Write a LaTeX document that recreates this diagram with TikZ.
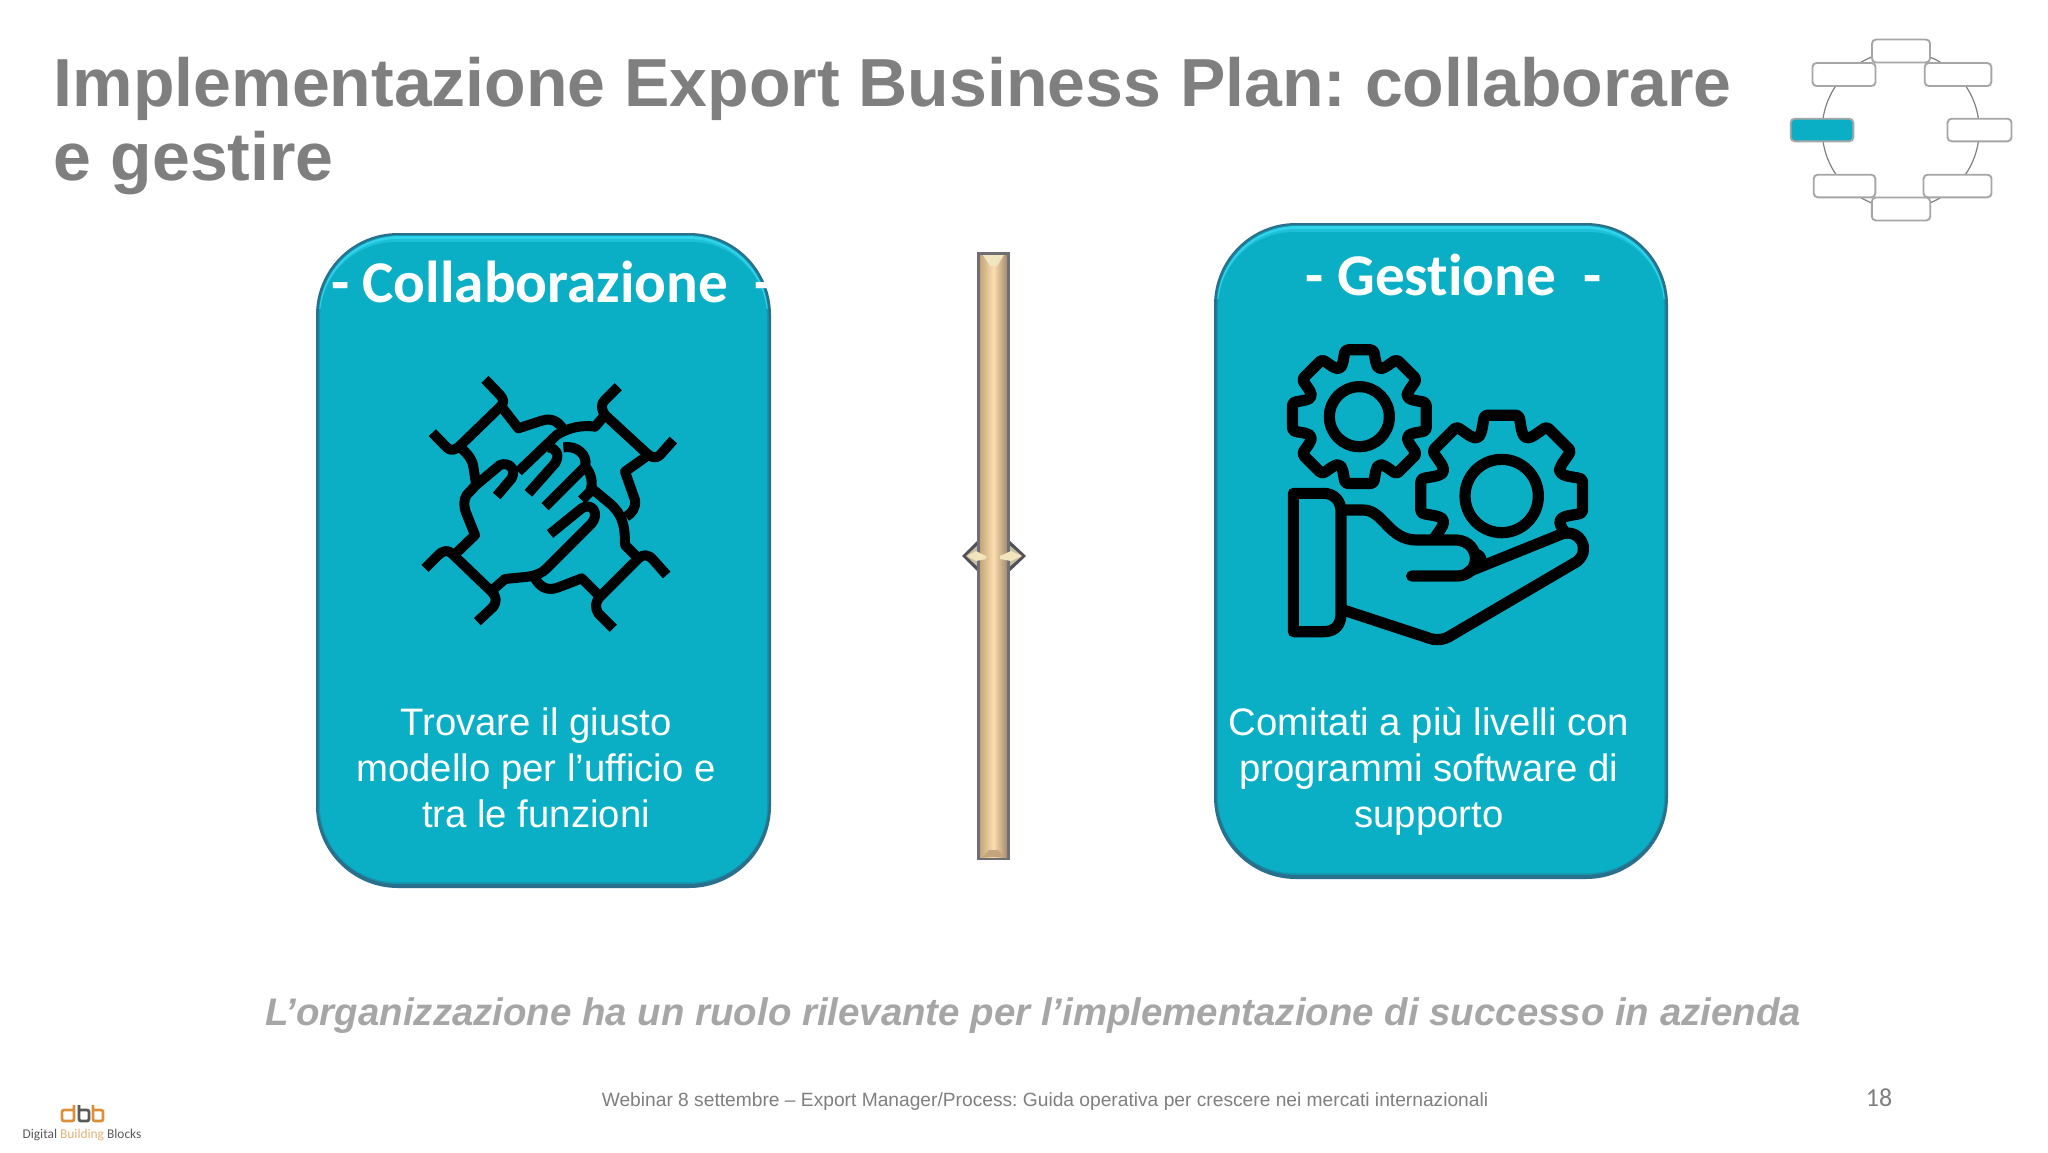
\documentclass[tikz,border=0pt]{standalone}
\usepackage{fontspec}
\setmainfont{Liberation Sans}
\newfontfamily\carlito[Ligatures=NoCommon]{Carlito}
\frenchspacing
\definecolor{titlegray}{HTML}{7F7F7F}
\definecolor{notegray}{HTML}{A6A6A6}
\definecolor{teal}{HTML}{0AAFC6}
\definecolor{tealdark}{HTML}{2A6F8C}
\definecolor{tealmid}{HTML}{1296AE}
\definecolor{teallight}{HTML}{2FD3EA}
\definecolor{tealsoft}{HTML}{1CC0D8}
\definecolor{ringgray}{HTML}{A6A6A6}
\definecolor{logoorange}{HTML}{DB8F3A}
\definecolor{logogray}{HTML}{595959}
\definecolor{postedge}{HTML}{6F6E74}
\definecolor{postleft}{HTML}{C4A67C}
\definecolor{postmid}{HTML}{FBDDAE}
\definecolor{postright}{HTML}{A48C6E}
\definecolor{postlight}{HTML}{F1E5BD}
\definecolor{postbevel}{HTML}{C9BEA4}
\definecolor{postdark}{HTML}{50505A}
\tikzset{
  txt/.style={inner sep=0pt,outer sep=0pt},
  ringbox/.style={draw=ringgray,line width=0.95pt,rounded corners=2pt,fill=white,inner sep=0pt,outer sep=0pt},
  iconline/.style={draw=black,line width=5pt,line join=round,line cap=butt},
  gearline/.style={draw=black,line width=5.6pt,line join=round,line cap=round},
  logoline/.style={line width=1.35pt,rounded corners=1pt},
}
\newcommand{\cardshape}[4]{%
  \fill[tealdark,rounded corners=41pt] (#1,#2) rectangle (#3,#4);
  \fill[tealmid,rounded corners=40pt] (#1+2.5,#2+2) rectangle (#3-2.5,#4-4);
  \begin{scope}
    \clip (#1,#2) rectangle (#3,#2+75);
    \fill[teallight,rounded corners=40pt] (#1+3,#2+3) rectangle (#3-3,#4-5);
    \fill[tealsoft,rounded corners=39pt] (#1+4,#2+6) rectangle (#3-4,#4-5);
  \end{scope}
  \fill[teal,rounded corners=38pt] (#1+4,#2+9) rectangle (#3-4,#4-6);
}
\newcommand{\gearshape}[5]{%
  \draw[#5,rounded corners=1.5pt] ([shift={(#1,#2)}]-22.5:#3*0.755)
    \foreach \a in {0,45,...,315}{
      -- ([shift={(#1,#2)}]\a-18:#3*0.8) -- ([shift={(#1,#2)}]\a-12:#3)
      -- ([shift={(#1,#2)}]\a+12:#3) -- ([shift={(#1,#2)}]\a+18:#3*0.8)
      -- ([shift={(#1,#2)}]\a+22.5:#3*0.755)
    } -- cycle;
  \draw[#5] (#1,#2) circle[radius=#4];
}
\begin{document}
\begin{tikzpicture}[x=0.5pt,y=-0.5pt]
\useasboundingbox (0,0) rectangle (2048,1152);
\fill[white] (0,0) rectangle (2048,1152);

% title
\node[txt,anchor=base west,text=titlegray,font=\bfseries\fontsize{34pt}{38pt}\selectfont] (title1) at (54,106) {Implementazione Export Business Plan: collaborare};
\node[txt,anchor=base west,text=titlegray,font=\bfseries\fontsize{34pt}{38pt}\selectfont] (title2) at (54,180) {e gestire};

% ring icon
\draw[gray,line width=0.6pt] (1900.7,130) circle[radius=78.5];
\node[ringbox,minimum width=29pt,minimum height=11.5pt] (ringtop) at (1901,51) {};
\node[ringbox,minimum width=31.5pt,minimum height=11.5pt] (ringtl) at (1844,74.5) {};
\node[ringbox,minimum width=33.3pt,minimum height=11.5pt] (ringtr) at (1958,74.5) {};
\node[ringbox,fill=teal,draw=ringgray,minimum width=31.3pt,minimum height=11.3pt] (ringl) at (1822,130) {};
\node[ringbox,minimum width=32pt,minimum height=11.3pt] (ringr) at (1979.5,130) {};
\node[ringbox,minimum width=30.8pt,minimum height=11.3pt] (ringbl) at (1844.5,186) {};
\node[ringbox,minimum width=34pt,minimum height=11.3pt] (ringbr) at (1957.5,186) {};
\node[ringbox,minimum width=29.2pt,minimum height=11.5pt] (ringb) at (1901,209) {};

% cards
\cardshape{316}{233}{771}{888}
\cardshape{1214}{223}{1668}{879}

\node[txt,anchor=base,text=white,font=\carlito\bfseries\fontsize{29.6pt}{32pt}\selectfont] (head1) at (552,302) {- Collaborazione\ \ -};
\node[txt,anchor=base,text=white,font=\carlito\bfseries\fontsize{29.6pt}{32pt}\selectfont] (head2) at (1453.5,295) {- Gestione\ \ -};

\node[txt,align=center,text=white,font=\fontsize{19.15pt}{23pt}\selectfont] (body1) at (536,768) {Trovare il giusto\\modello per l’ufficio e\\tra le funzioni};
\node[txt,align=center,text=white,font=\fontsize{19.15pt}{23pt}\selectfont] (body2) at (1429,771.5) {Comitati a più livelli con\\programmi software di\\supporto};

% hands icon
\begin{scope}[shift={(400,360)},x=0.16667pt,y=-0.16667pt]
  \draw[iconline] (255,58) -- (300,105) .. controls (312,118) and (312,128) .. (303,138) -- (175,262) .. controls (160,272) and (150,272) .. (140,262) -- (97,218);
  \draw[iconline] (303,138) -- (355,205) -- (425,182) .. controls (455,172) and (475,185) .. (490,208);
  \draw[iconline] (185,265) .. controls (205,285) and (218,300) .. (220,320) -- (228,372);
  \draw[iconline] (290,408) -- (335,355) .. controls (350,325) and (325,305) .. (300,315) -- (228,375) -- (200,405) .. controls (190,420) and (192,440) .. (197,455) -- (225,525) -- (170,578);
  \draw[iconline] (75,625) -- (115,585) .. controls (130,570) and (145,570) .. (155,580) -- (275,695) .. controls (290,710) and (290,725) .. (280,740) -- (232,785);
  \draw[iconline] (275,692) -- (315,657) -- (385,650) .. controls (410,645) and (425,640) .. (440,625) -- (575,490) .. controls (600,460) and (575,425) .. (545,445) -- (450,522);
  \draw[iconline] (355,335) -- (470,225) .. controls (510,200) and (550,195) .. (585,200) -- (615,165);
  \draw[iconline] (385,400) -- (465,310) .. controls (480,285) and (470,265) .. (445,262);
  \draw[iconline] (490,262) .. controls (530,255) and (565,285) .. (555,320) -- (435,440);
  \draw[iconline] (555,320) .. controls (575,340) and (580,370) .. (570,395) -- (545,420);
  \draw[iconline] (655,80) -- (615,120) .. controls (600,135) and (605,150) .. (615,165) -- (740,280) .. controls (755,295) and (770,295) .. (780,285) -- (820,240);
  \draw[iconline] (745,285) -- (675,335) -- (705,420) .. controls (708,445) and (695,460) .. (678,470);
  \draw[iconline] (575,385) -- (635,435) .. controls (665,465) and (675,490) .. (675,555) -- (712,592);
  \draw[iconline] (800,645) -- (760,600) .. controls (745,582) and (730,582) .. (715,595) -- (600,710) .. controls (585,725) and (585,745) .. (595,760) -- (640,805);
  \draw[iconline] (600,710) -- (545,655) -- (475,682) .. controls (440,695) and (420,680) .. (405,655);
\end{scope}

% gears and hand icon
\begin{scope}[shift={(1260,330)},x=0.16667pt,y=-0.16667pt]
  \gearshape{298}{260}{205}{90}{gearline}
  \begin{scope}
    \clip (440,200) -- (1010,200) -- (1010,585) -- (900,600) -- (650,700) -- (620,625) -- (440,625) -- cycle;
    \gearshape{725}{498}{248}{110}{gearline}
  \end{scope}
  \draw[gearline] (100,490) -- (190,490) .. controls (225,490) and (243,515) .. (243,545) -- (243,850) .. controls (243,885) and (225,905) .. (190,905) -- (100,905) -- cycle;
  \draw[gearline] (245,540) -- (310,540) .. controls (370,540) and (385,630) .. (470,630) -- (590,630) .. controls (665,635) and (665,738) .. (590,738) -- (455,738);
  \draw[gearline] (625,725) -- (905,612) .. controls (960,595) and (995,660) .. (950,695) -- (575,915) .. controls (550,932) and (525,932) .. (500,922) -- (250,840);
\end{scope}

% post
\fill[postdark] (962,556) -- (978,540) -- (978,572) -- cycle;
\fill[postdark] (1026,556) -- (1009,540) -- (1009,572) -- cycle;
\fill[postbevel] (966,556) -- (979,544) -- (979,568) -- cycle;
\fill[postbevel] (1022,556) -- (1008,544) -- (1008,568) -- cycle;
\fill[postedge] (977,252) rectangle (1010,860);
\shade[left color=postleft,right color=postright,middle color=postmid] (980,255) rectangle (1007,857);
\fill[postlight] (983,255) -- (1004,255) -- (997,266) -- (990,266) -- cycle;
\fill[postleft] (983,857) -- (1004,857) -- (998,850) -- (989,850) -- cycle;
\fill[postlight] (967,556) -- (976,551) -- (986,556) -- (986,559) -- (976,561) -- cycle;
\fill[postlight] (1022,556) -- (1011,551) -- (1000,556) -- (1000,559) -- (1011,561) -- cycle;

% note
\node[txt,anchor=base,text=notegray,font=\bfseries\itshape\fontsize{19.2pt}{23pt}\selectfont] (note) at (1033,1025) {L’organizzazione ha un ruolo rilevante per l’implementazione di successo in azienda};

% footer
\node[txt,anchor=base,text=titlegray,font=\fontsize{9.6pt}{12pt}\selectfont] (foot) at (1045,1106) {Webinar 8 settembre – Export Manager/Process: Guida operativa per crescere nei mercati internazionali};
\node[txt,anchor=base,text=titlegray,font=\carlito\fontsize{13pt}{14pt}\selectfont] (page) at (1879,1106) {18};

% logo
\draw[logoorange,logoline] (74,1105) -- (74,1121) -- (62,1121) -- (62,1110) -- (74,1110);
\draw[logogray,logoline] (79,1105) -- (79,1121) -- (89,1121) -- (89,1110) -- (79,1110);
\draw[logoorange,logoline] (93,1105) -- (93,1121) -- (103,1121) -- (103,1110) -- (93,1110);
\node[txt,anchor=base,font=\carlito\fontsize{6.7pt}{8pt}\selectfont,text=logogray] (logotext) at (82,1138) {Digital \textcolor{logoorange!70}{Building} Blocks};
\end{tikzpicture}
\end{document}
